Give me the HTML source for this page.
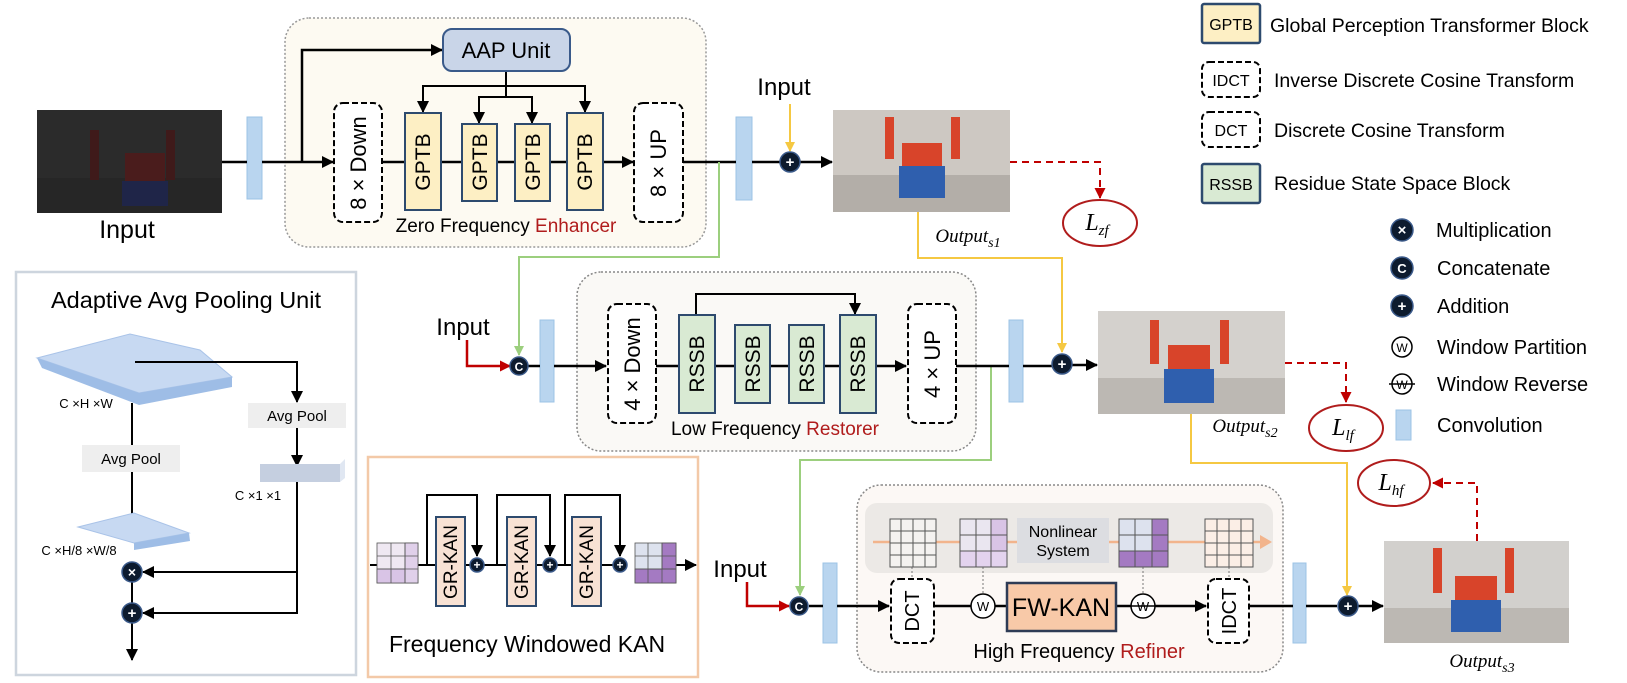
<!DOCTYPE html>
<html><head><meta charset="utf-8"><style>
html,body{margin:0;padding:0;background:#fff;}
svg{display:block;font-family:"Liberation Sans",sans-serif;}
</style></head><body>
<svg width="1627" height="683" viewBox="0 0 1627 683" xmlns="http://www.w3.org/2000/svg">
<defs>
<marker id="a" markerWidth="12" markerHeight="12" refX="11" refY="6" orient="auto" markerUnits="userSpaceOnUse"><path d="M0,0 L12,6 L0,12 z" fill="#000"/></marker>
<marker id="ay" markerWidth="10" markerHeight="10" refX="9" refY="5" orient="auto" markerUnits="userSpaceOnUse"><path d="M0,0 L10,5 L0,10 z" fill="#f5c842"/></marker>
<marker id="ag" markerWidth="10" markerHeight="10" refX="9" refY="5" orient="auto" markerUnits="userSpaceOnUse"><path d="M0,0 L10,5 L0,10 z" fill="#9ccf7e"/></marker>
<marker id="ar" markerWidth="11" markerHeight="11" refX="10" refY="5.5" orient="auto" markerUnits="userSpaceOnUse"><path d="M0,0 L11,5.5 L0,11 z" fill="#c00000"/></marker>
</defs>

<!-- containers -->
<rect x="285" y="18" width="421" height="229" rx="24" fill="#fdfaf2" stroke="#999" stroke-width="1.5" stroke-dasharray="2,2"/>
<rect x="577" y="272" width="399" height="179" rx="24" fill="#faf9f6" stroke="#888" stroke-width="1.5" stroke-dasharray="2,2"/>
<rect x="857" y="485" width="426" height="187" rx="24" fill="#fcf8f5" stroke="#888" stroke-width="1.5" stroke-dasharray="2,2"/>
<rect x="865" y="503" width="408" height="70" rx="12" fill="#ece9e6"/>
<rect x="16" y="272" width="340" height="403" fill="#fff" stroke="#cdd5de" stroke-width="2.5"/>
<rect x="368" y="457" width="330" height="220" fill="#fff" stroke="#f3c9a8" stroke-width="2.5"/>

<!-- Input image -->
<rect x="37" y="110" width="185" height="103" fill="#2b2b2b"/>
<rect x="37" y="178" width="185" height="35" fill="#262626"/>
<rect x="125" y="153" width="40" height="28" fill="#4a1c1c"/>
<rect x="122" y="181" width="46" height="25" fill="#1f2548"/>
<rect x="90" y="130" width="9" height="50" fill="#3f1a1a"/><rect x="166" y="130" width="9" height="50" fill="#3f1a1a"/>
<text x="127" y="238" font-size="25" text-anchor="middle">Input</text>

<!-- conv bars -->
<g fill="#b9d5ef" stroke="#9cc3e6" stroke-width="1">
<rect x="247" y="117" width="15" height="82"/>
<rect x="736" y="117" width="16" height="83"/>
<rect x="540" y="320" width="14" height="82"/>
<rect x="1009" y="320" width="14" height="82"/>
<rect x="823" y="563" width="14" height="80"/>
<rect x="1293" y="563" width="13" height="80"/>
</g>

<!-- ZFE lines -->
<g stroke="#000" stroke-width="2.5" fill="none">
<line x1="222" y1="162" x2="247" y2="162"/>
<line x1="262" y1="162" x2="333" y2="162" marker-end="url(#a)"/>
<polyline points="302,162 302,50 442,50" marker-end="url(#a)"/>
<line x1="382" y1="162" x2="633" y2="162" marker-end="url(#a)"/>
<line x1="683" y1="162" x2="736" y2="162"/>
<line x1="752" y1="162" x2="780" y2="162"/>
<line x1="800" y1="162" x2="832" y2="162" marker-end="url(#a)"/>
</g>
<g stroke="#000" stroke-width="2" fill="none">
<line x1="506" y1="71" x2="506" y2="97"/>
<polyline points="423,112 423,86 585,86 585,112" marker-end="url(#a)"/>
<line x1="423" y1="86" x2="423" y2="112" marker-end="url(#a)"/>
<polyline points="479,123 479,97 532,97 532,123" marker-end="url(#a)"/>
<line x1="479" y1="97" x2="479" y2="123" marker-end="url(#a)"/>
</g>
<rect x="443" y="29" width="127" height="42" rx="9" fill="#c9d5e8" stroke="#3a5a8a" stroke-width="2"/>
<text x="506" y="58" font-size="22" text-anchor="middle">AAP Unit</text>
<g fill="#fff" stroke="#000" stroke-width="2" stroke-dasharray="6,3">
<rect x="334" y="103" width="48" height="119" rx="9"/>
<rect x="634" y="103" width="49" height="119" rx="9"/>
</g>
<text transform="translate(366,163) rotate(-90)" font-size="22" text-anchor="middle">8 × Down</text>
<text transform="translate(666,163) rotate(-90)" font-size="22" text-anchor="middle">8 × UP</text>
<g fill="#fdefc4" stroke="#2d4a6e" stroke-width="2">
<rect x="405" y="113" width="36" height="97"/>
<rect x="462" y="124" width="35" height="77"/>
<rect x="515" y="124" width="35" height="77"/>
<rect x="567" y="113" width="36" height="97"/>
</g>
<g font-size="21" text-anchor="middle">
<text transform="translate(430,162) rotate(-90)">GPTB</text>
<text transform="translate(487,162) rotate(-90)">GPTB</text>
<text transform="translate(540,162) rotate(-90)">GPTB</text>
<text transform="translate(592,162) rotate(-90)">GPTB</text>
</g>
<text x="506" y="232" font-size="19" text-anchor="middle">Zero Frequency <tspan fill="#b01c1c">Enhancer</tspan></text>

<text x="784" y="95" font-size="24" text-anchor="middle">Input</text>
<line x1="790" y1="104" x2="790" y2="151" stroke="#f5c842" stroke-width="2" marker-end="url(#ay)"/>

<!-- output s1 -->
<rect x="833" y="110" width="177" height="102" fill="#cdc8c2"/>
<rect x="833" y="175" width="177" height="37" fill="#b3aea8"/>
<rect x="902" y="143" width="40" height="23" fill="#d8442a"/>
<rect x="899" y="166" width="46" height="32" fill="#2f5fae"/>
<rect x="885" y="117" width="9" height="42" fill="#d8442a"/><rect x="951" y="117" width="9" height="42" fill="#d8442a"/>
<text x="968" y="242" font-size="19" font-style="italic" font-family="Liberation Serif,serif" text-anchor="middle">Output<tspan font-size="14" dy="5">s1</tspan></text>
<polyline points="1010,162 1100,162 1100,198" fill="none" stroke="#c00000" stroke-width="2" stroke-dasharray="7,5" marker-end="url(#ar)"/>
<ellipse cx="1100" cy="223" rx="37" ry="23" fill="#fff" stroke="#b01c1c" stroke-width="2"/>
<text x="1097" y="230" font-size="24" font-style="italic" font-family="Liberation Serif,serif" text-anchor="middle">L<tspan font-size="15" dy="5">zf</tspan></text>

<!-- colored connectors -->
<polyline points="719,162 719,257 519,257 519,355" fill="none" stroke="#9ccf7e" stroke-width="2" marker-end="url(#ag)"/>
<polyline points="918,212 918,258 1062,258 1062,352" fill="none" stroke="#f5c842" stroke-width="2" marker-end="url(#ay)"/>
<polyline points="991,366 991,460 800,460 800,595" fill="none" stroke="#9ccf7e" stroke-width="2" marker-end="url(#ag)"/>
<polyline points="1191,414 1191,463 1347,463 1347,595" fill="none" stroke="#f5c842" stroke-width="2" marker-end="url(#ay)"/>

<!-- LFR -->
<text x="463" y="335" font-size="24" text-anchor="middle">Input</text>
<polyline points="467,340 467,366 510,366" fill="none" stroke="#c00000" stroke-width="2.5" marker-end="url(#ar)"/>
<g stroke="#000" stroke-width="2.5" fill="none">
<line x1="527" y1="366" x2="540" y2="366"/>
<line x1="554" y1="366" x2="606" y2="366" marker-end="url(#a)"/>
<line x1="656" y1="366" x2="840" y2="366"/>
<line x1="876" y1="366" x2="906" y2="366" marker-end="url(#a)"/>
<line x1="956" y1="366" x2="1009" y2="366"/>
<line x1="1023" y1="366" x2="1052" y2="366"/>
<line x1="1072" y1="365" x2="1097" y2="365" marker-end="url(#a)"/>
</g>
<polyline points="696,315 696,294 855,294 855,314" fill="none" stroke="#000" stroke-width="2" marker-end="url(#a)"/>
<g fill="#fff" stroke="#000" stroke-width="2" stroke-dasharray="6,3">
<rect x="608" y="304" width="48" height="119" rx="9"/>
<rect x="908" y="304" width="48" height="119" rx="9"/>
</g>
<text transform="translate(640,364) rotate(-90)" font-size="22" text-anchor="middle">4 × Down</text>
<text transform="translate(940,364) rotate(-90)" font-size="22" text-anchor="middle">4 × UP</text>
<g fill="#d9ead3" stroke="#2d4a6e" stroke-width="2">
<rect x="679" y="315" width="36" height="98"/>
<rect x="735" y="325" width="35" height="78"/>
<rect x="789" y="325" width="35" height="78"/>
<rect x="840" y="315" width="36" height="98"/>
</g>
<g font-size="21" text-anchor="middle">
<text transform="translate(704,364) rotate(-90)">RSSB</text>
<text transform="translate(760,364) rotate(-90)">RSSB</text>
<text transform="translate(814,364) rotate(-90)">RSSB</text>
<text transform="translate(865,364) rotate(-90)">RSSB</text>
</g>
<text x="775" y="435" font-size="19" text-anchor="middle">Low Frequency <tspan fill="#b01c1c">Restorer</tspan></text>

<!-- output s2 -->
<rect x="1098" y="311" width="187" height="103" fill="#d4d1cd"/>
<rect x="1098" y="378" width="187" height="36" fill="#bcb8b3"/>
<rect x="1168" y="345" width="42" height="24" fill="#d8442a"/>
<rect x="1164" y="369" width="50" height="34" fill="#2f5fae"/>
<rect x="1150" y="320" width="9" height="44" fill="#d8442a"/><rect x="1220" y="320" width="9" height="44" fill="#d8442a"/>
<text x="1245" y="432" font-size="19" font-style="italic" font-family="Liberation Serif,serif" text-anchor="middle">Output<tspan font-size="14" dy="5">s2</tspan></text>
<polyline points="1285,363 1346,363 1346,402" fill="none" stroke="#c00000" stroke-width="2" stroke-dasharray="7,5" marker-end="url(#ar)"/>
<ellipse cx="1346" cy="428" rx="37" ry="23" fill="#fff" stroke="#b01c1c" stroke-width="2"/>
<text x="1343" y="435" font-size="24" font-style="italic" font-family="Liberation Serif,serif" text-anchor="middle">L<tspan font-size="15" dy="5">lf</tspan></text>

<!-- HFR -->
<text x="740" y="577" font-size="24" text-anchor="middle">Input</text>
<polyline points="747,582 747,606 789,606" fill="none" stroke="#c00000" stroke-width="2.5" marker-end="url(#ar)"/>
<line x1="873" y1="542" x2="1262" y2="542" stroke="#f2b48c" stroke-width="2.5"/>
<path d="M1260,535 L1272,542 L1260,549 z" fill="#f2b48c"/>
<g stroke="#000" stroke-width="2.5" fill="none">
<line x1="809" y1="606" x2="823" y2="606"/>
<line x1="837" y1="606" x2="889" y2="606" marker-end="url(#a)"/>
<line x1="934" y1="606" x2="971" y2="606"/>
<line x1="995" y1="606" x2="1007" y2="606"/>
<line x1="1116" y1="606" x2="1131" y2="606"/>
<line x1="1155" y1="606" x2="1206" y2="606" marker-end="url(#a)"/>
<line x1="1249" y1="606" x2="1293" y2="606"/>
<line x1="1306" y1="606" x2="1337" y2="606"/>
<line x1="1358" y1="606" x2="1383" y2="606" marker-end="url(#a)"/>
</g>
<g stroke="#777" stroke-width="1" stroke-dasharray="2,2">
<line x1="912" y1="567" x2="912" y2="579"/><line x1="983" y1="567" x2="983" y2="594"/>
<line x1="1143" y1="567" x2="1143" y2="594"/><line x1="1229" y1="567" x2="1229" y2="579"/>
</g>
<g stroke="#555" stroke-width="1">
<rect x="890" y="519" width="46" height="48" fill="#f4f2f0"/>
<path d="M901,519V567M913,519V567M925,519V567M890,531H936M890,543H936M890,555H936"/>
<rect x="960" y="519" width="47" height="48" fill="#eae6f0"/>
<rect x="991" y="519" width="16" height="48" fill="#d9c4e6"/>
<rect x="960" y="551" width="47" height="16" fill="#e3d3ee"/>
<path d="M976,519V567M991,519V567M960,535H1007M960,551H1007"/>
<rect x="1119" y="519" width="49" height="48" fill="#dde2ee"/>
<rect x="1152" y="519" width="16" height="48" fill="#a47ac2"/>
<rect x="1119" y="551" width="49" height="16" fill="#a47ac2"/>
<path d="M1135,519V567M1152,519V567M1119,535H1168M1119,551H1168"/>
<rect x="1205" y="519" width="48" height="48" fill="#fbeee6"/>
<path d="M1217,519V567M1229,519V567M1241,519V567M1205,531H1253M1205,543H1253M1205,555H1253"/>
</g>
<rect x="1017" y="518" width="92" height="45" fill="#dcdde1"/>
<text x="1063" y="537" font-size="16" text-anchor="middle">Nonlinear</text>
<text x="1063" y="556" font-size="16" text-anchor="middle">System</text>
<g fill="#fff" stroke="#000" stroke-width="2" stroke-dasharray="6,3">
<rect x="891" y="579" width="43" height="64" rx="8"/>
<rect x="1208" y="579" width="41" height="64" rx="8"/>
</g>
<text transform="translate(919,611) rotate(-90)" font-size="20" text-anchor="middle">DCT</text>
<text transform="translate(1236,611) rotate(-90)" font-size="20" text-anchor="middle">IDCT</text>
<g fill="#fff" stroke="#000" stroke-width="1.5">
<circle cx="983" cy="606" r="12"/><circle cx="1143" cy="606" r="12"/>
</g>
<text x="983" y="611" font-size="13" text-anchor="middle">W</text>
<text x="1143" y="611" font-size="13" text-anchor="middle">W</text>
<line x1="1131" y1="606" x2="1155" y2="606" stroke="#000" stroke-width="1.5"/>
<rect x="1007" y="583" width="109" height="48" fill="#f8c9a8" stroke="#2d3b55" stroke-width="2.5"/>
<text x="1061" y="616" font-size="25" text-anchor="middle">FW-KAN</text>
<text x="1079" y="658" font-size="20" text-anchor="middle">High Frequency <tspan fill="#b01c1c">Refiner</tspan></text>

<!-- output s3 -->
<rect x="1384" y="541" width="185" height="102" fill="#d2d0cd"/>
<rect x="1384" y="608" width="185" height="35" fill="#bcb8b3"/>
<rect x="1455" y="576" width="42" height="24" fill="#d8442a"/>
<rect x="1451" y="600" width="50" height="32" fill="#2f5fae"/>
<rect x="1433" y="548" width="9" height="45" fill="#d8442a"/><rect x="1505" y="548" width="9" height="45" fill="#d8442a"/>
<text x="1482" y="667" font-size="19" font-style="italic" font-family="Liberation Serif,serif" text-anchor="middle">Output<tspan font-size="14" dy="5">s3</tspan></text>
<polyline points="1477,541 1477,483 1433,483" fill="none" stroke="#c00000" stroke-width="2" stroke-dasharray="7,5" marker-end="url(#ar)"/>
<ellipse cx="1394" cy="483" rx="36" ry="23" fill="#fff" stroke="#b01c1c" stroke-width="2"/>
<text x="1391" y="490" font-size="24" font-style="italic" font-family="Liberation Serif,serif" text-anchor="middle">L<tspan font-size="15" dy="5">hf</tspan></text>

<!-- operator circles -->
<g fill="#0d1b2e" stroke="#3b5a8a" stroke-width="1.5">
<circle cx="790" cy="162" r="10"/><circle cx="1062" cy="364" r="10"/><circle cx="1348" cy="606" r="10"/>
<circle cx="519" cy="366" r="9"/><circle cx="799" cy="606" r="9"/>
</g>
<g fill="#fff" font-size="15" font-weight="bold" text-anchor="middle">
<text x="790" y="167">+</text><text x="1062" y="369">+</text><text x="1348" y="611">+</text>
<text x="519" y="371" font-size="12">C</text><text x="799" y="611" font-size="12">C</text>
</g>

<!-- Adaptive Avg Pooling Unit -->
<text x="186" y="308" font-size="23.5" text-anchor="middle">Adaptive Avg Pooling Unit</text>
<path d="M37,358 L130,334 L200,350 L232,377 L139,393 Z" fill="#c7d9f2" stroke="#a9c3e8"/>
<path d="M37,358 L139,393 L232,377 L232,387 L139,405 L42,368 Z" fill="#9ebde6"/>
<text x="86" y="408" font-size="13" text-anchor="middle">C ×H ×W</text>
<g stroke="#000" stroke-width="2" fill="none">
<polyline points="135,362 297,362 297,402" marker-end="url(#a)"/>
<line x1="297" y1="428" x2="297" y2="466" marker-end="url(#a)"/>
<line x1="132" y1="403" x2="132" y2="527" marker-end="url(#a)"/>
<polyline points="297,482 297,572 143,572" marker-end="url(#a)"/>
<polyline points="297,572 297,613 143,613" marker-end="url(#a)"/>
<line x1="132" y1="582" x2="132" y2="603"/>
<line x1="132" y1="623" x2="132" y2="660" marker-end="url(#a)"/>
</g>
<rect x="248" y="403" width="98" height="25" fill="#eeeeee"/>
<text x="297" y="421" font-size="15" text-anchor="middle">Avg Pool</text>
<rect x="82" y="445" width="98" height="27" fill="#eeeeee"/>
<text x="131" y="464" font-size="15" text-anchor="middle">Avg Pool</text>
<rect x="260" y="464" width="80" height="18" fill="#c5cfe0"/>
<path d="M340,464 L345,459 L345,478 L340,482 Z" fill="#e0e7f2"/>
<text x="258" y="500" font-size="13" text-anchor="middle">C ×1 ×1</text>
<path d="M78,527 L134,513 L189,533 L134,543 Z" fill="#c7d9f2" stroke="#a9c3e8"/>
<path d="M134,543 L189,533 L190,541 L134,550 Z" fill="#9ebde6"/>
<text x="79" y="555" font-size="13" text-anchor="middle">C ×H/8 ×W/8</text>
<g fill="#0d1b2e" stroke="#3b5a8a" stroke-width="1.5"><circle cx="132" cy="572" r="10"/><circle cx="132" cy="613" r="10"/></g>
<text x="132" y="577" fill="#fff" font-size="14" font-weight="bold" text-anchor="middle">×</text>
<text x="132" y="618" fill="#fff" font-size="15" font-weight="bold" text-anchor="middle">+</text>

<!-- FW KAN -->
<g stroke="#000" stroke-width="2" fill="none">
<line x1="370" y1="565" x2="436" y2="565"/>
<line x1="465" y1="565" x2="470" y2="565"/>
<line x1="484" y1="565" x2="507" y2="565"/>
<line x1="536" y1="565" x2="543" y2="565"/>
<line x1="557" y1="565" x2="572" y2="565"/>
<line x1="601" y1="565" x2="613" y2="565"/>
<line x1="676" y1="565" x2="696" y2="565" marker-end="url(#a)"/>
<polyline points="427,565 427,495 477,495 477,556" marker-end="url(#a)"/>
<polyline points="497,565 497,495 550,495 550,556" marker-end="url(#a)"/>
<polyline points="565,565 565,495 620,495 620,556" marker-end="url(#a)"/>
</g>
<g fill="#f8e2d4" stroke="#2d4a6e" stroke-width="2">
<rect x="436" y="517" width="29" height="89"/>
<rect x="507" y="517" width="29" height="89"/>
<rect x="572" y="517" width="29" height="89"/>
</g>
<g font-size="19" text-anchor="middle">
<text transform="translate(457,562) rotate(-90)">GR-KAN</text>
<text transform="translate(528,562) rotate(-90)">GR-KAN</text>
<text transform="translate(593,562) rotate(-90)">GR-KAN</text>
</g>
<g fill="#0d1b2e" stroke="#3b5a8a" stroke-width="1.5"><circle cx="477" cy="565" r="7"/><circle cx="550" cy="565" r="7"/><circle cx="620" cy="565" r="7"/></g>
<g fill="#fff" font-size="12" font-weight="bold" text-anchor="middle"><text x="477" y="569">+</text><text x="550" y="569">+</text><text x="620" y="569">+</text></g>
<g stroke="#555" stroke-width="0.8">
<rect x="377" y="543" width="41" height="40" fill="#efe8f2"/>
<rect x="377" y="569" width="41" height="14" fill="#d9c4e6"/>
<rect x="405" y="543" width="13" height="40" fill="#e0d0ea"/>
<path d="M391,543V583M405,543V583M377,556H418M377,569H418"/>
<rect x="635" y="543" width="41" height="40" fill="#dde2ee"/>
<rect x="662" y="543" width="14" height="40" fill="#a47ac2"/>
<rect x="635" y="569" width="41" height="14" fill="#a47ac2"/>
<path d="M648,543V583M662,543V583M635,556H676M635,569H676"/>
</g>
<text x="527" y="652" font-size="23" text-anchor="middle">Frequency Windowed KAN</text>

<!-- Legend -->
<rect x="1202" y="4" width="58" height="39" rx="2" fill="#fdefc4" stroke="#2d4a6e" stroke-width="2.5"/>
<text x="1231" y="30" font-size="16" text-anchor="middle">GPTB</text>
<rect x="1202" y="62" width="58" height="35" rx="7" fill="#fff" stroke="#000" stroke-width="2" stroke-dasharray="6,3"/>
<text x="1231" y="86" font-size="16" text-anchor="middle">IDCT</text>
<rect x="1202" y="112" width="58" height="35" rx="7" fill="#fff" stroke="#000" stroke-width="2" stroke-dasharray="6,3"/>
<text x="1231" y="136" font-size="16" text-anchor="middle">DCT</text>
<rect x="1202" y="164" width="58" height="39" rx="2" fill="#d9ead3" stroke="#2d4a6e" stroke-width="2.5"/>
<text x="1231" y="190" font-size="16" text-anchor="middle">RSSB</text>
<g font-size="19.5">
<text x="1270" y="32">Global Perception Transformer Block</text>
<text x="1274" y="87">Inverse Discrete Cosine Transform</text>
<text x="1274" y="137">Discrete Cosine Transform</text>
<text x="1274" y="190">Residue State Space Block</text>
</g>
<g font-size="20">
<text x="1436" y="237">Multiplication</text>
<text x="1437" y="275">Concatenate</text>
<text x="1437" y="313">Addition</text>
<text x="1437" y="354">Window Partition</text>
<text x="1437" y="391">Window Reverse</text>
<text x="1437" y="432">Convolution</text>
</g>
<g fill="#0d1b2e" stroke="#3b5a8a" stroke-width="1.5"><circle cx="1402" cy="230" r="11"/><circle cx="1402" cy="268" r="11"/><circle cx="1402" cy="306" r="11"/></g>
<g fill="#fff" font-size="15" font-weight="bold" text-anchor="middle"><text x="1402" y="235">×</text><text x="1402" y="273" font-size="13">C</text><text x="1402" y="311">+</text></g>
<circle cx="1402" cy="347" r="10" fill="#fff" stroke="#000" stroke-width="1.5"/>
<text x="1402" y="352" font-size="12" text-anchor="middle">W</text>
<circle cx="1402" cy="384" r="10" fill="#fff" stroke="#000" stroke-width="1.5"/>
<text x="1402" y="389" font-size="12" text-anchor="middle">W</text>
<line x1="1389" y1="384" x2="1415" y2="384" stroke="#000" stroke-width="1.5"/>
<rect x="1396" y="410" width="15" height="30" fill="#b9d5ef" stroke="#9cc3e6"/>
</svg>
</body></html>
